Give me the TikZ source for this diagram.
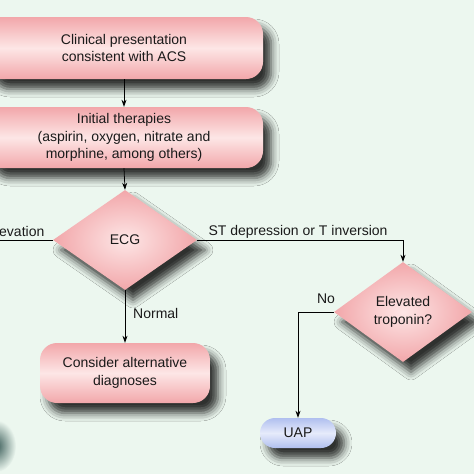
\documentclass[tikz,border=0pt]{standalone}
\usepackage{fontspec}
\setmainfont{Liberation Sans}
\usetikzlibrary{shapes.geometric,shapes.misc,arrows.meta,shadows.blur}
\definecolor{bg}{HTML}{ECF7EF}
\definecolor{pinkedge}{HTML}{F2A7AA}
\definecolor{pinkmid}{HTML}{FDE6E6}
\definecolor{blueedge}{HTML}{B0BFEF}
\definecolor{bluemid}{HTML}{E6EBFB}
\definecolor{txt}{HTML}{1A1A1A}
\definecolor{shad}{HTML}{3A5C58}
\tikzset{
  txtfont/.style={font=\fontsize{14}{17.5}\selectfont, text=txt},
  shd/.style={blur shadow={shadow xshift=8pt, shadow yshift=-10pt, shadow blur radius=8pt, shadow opacity=80}},
  procbox/.style={txtfont, shd, rounded corners=17pt, top color=pinkedge, bottom color=pinkedge, middle color=pinkmid, align=center, inner sep=0pt},
  decision/.style={txtfont, shd, diamond, inner color=pinkmid, outer color=pinkedge, align=center, inner sep=0pt},
  endbox/.style={txtfont, shd, rounded rectangle, top color=blueedge, bottom color=blueedge, middle color=bluemid, inner sep=0pt},
  conn/.style={draw=black, line width=0.75pt},
  arr/.style={conn, -{Stealth[length=7pt,width=5pt]}},
  lbl/.style={txtfont, inner sep=0pt}
}
\begin{document}
\begin{tikzpicture}[x=1pt,y=-1pt]
\useasboundingbox (0,0) rectangle (474,474);
\clip (0,0) rectangle (474,474);
\fill[bg] (0,0) rectangle (474,474);
% partial shadow of an off-picture element at bottom left
\shade[inner color=shad, outer color=bg] (-4,446) ellipse (20 and 26);

\node[procbox, minimum width=278pt, minimum height=62pt] (clin) at (124,48) {Clinical presentation\\consistent with ACS};
\node[procbox, minimum width=278pt, minimum height=61pt] (init) at (124,137.5) {Initial therapies\\(aspirin, oxygen, nitrate and\\morphine, among others)};
\node[decision, minimum width=144pt, minimum height=100pt] (ecg) at (125,240) {ECG};
\node[procbox, minimum width=170pt, minimum height=60pt] (cons) at (125,373) {Consider alternative\\diagnoses};
\node[decision, minimum width=138pt, minimum height=100pt] (trop) at (403,312) {Elevated\\troponin?};
\node[endbox, minimum width=76pt, minimum height=30pt] (uap) at (298,433) {UAP};
\coordinate (offl) at (-5,240);

\draw[arr] (clin.south -| 124,0) -- (init.north -| 124,0);
\draw[arr] (init.south -| 124,0) -- (ecg.north);
\draw[arr] (ecg.south) -- (cons.north -| ecg.south);
\draw[conn] (ecg.west) -- (offl);
\draw[arr] (ecg.east) -| (trop.north);
\draw[arr] (trop.west) -| (uap.north);

\node[lbl, anchor=base west] (lelev) at (-1,236) {evation};
\node[lbl, anchor=base] (lstd) at (298,235) {ST depression or T inversion};
\node[lbl, anchor=base] (lno) at (326,303) {No};
\node[lbl, anchor=base west] (lnorm) at (133,318) {Normal};
\end{tikzpicture}
\end{document}
